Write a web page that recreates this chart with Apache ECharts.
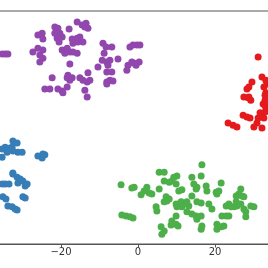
<!DOCTYPE html>
<html><head><meta charset="utf-8">
<script src="https://cdn.jsdelivr.net/npm/echarts@6/dist/echarts.min.js"></script>
<style>html,body{margin:0;padding:0;background:#fff}#c{width:268px;height:268px}</style>
</head><body><div id="c"></div>
<script>
const xTicks = [-40, -20, 0, 20, 40];
const purple = [[-35.3,19.1],[-34.5,19.1],[-33.8,19.1],[-24.9,24.5],[-24.7,23.0],[-26.0,24.0],[-21.6,26.1],[-20.8,25.8],[-21.6,24.5],[-20.3,24.5],[-21.0,23.2],[-19.7,23.5],[-20.5,22.2],[-17.9,25.6],[-15.8,27.4],[-14.5,26.6],[-13.5,27.1],[-13.0,25.8],[-13.8,26.1],[-17.1,23.0],[-15.8,23.2],[-15.1,23.5],[-15.6,22.2],[-14.3,22.2],[-16.9,21.9],[-27.3,19.6],[-26.0,20.6],[-24.7,20.1],[-25.5,18.8],[-24.7,18.0],[-25.5,17.0],[-19.7,20.1],[-18.4,20.6],[-19.0,19.3],[-17.7,19.6],[-16.9,19.6],[-15.8,19.3],[-17.7,16.5],[-9.1,21.9],[-8.3,20.9],[-6.8,20.9],[-8.8,19.3],[-9.3,17.5],[-8.1,17.0],[-7.3,17.5],[-7.8,16.2],[-10.4,15.7],[-5.2,17.8],[-2.6,16.2],[-1.6,17.0],[-2.9,14.9],[-2.1,20.9],[-1.3,21.4],[-18.2,13.6],[-17.7,12.3],[-18.4,12.9],[-17.1,12.9],[-15.1,12.9],[-14.3,12.3],[-13.2,11.8],[-12.5,12.3],[-13.0,14.2],[-13.8,9.7],[-13.2,7.9],[-22.3,12.9],[-24.2,10.0],[-22.9,10.0],[-20.8,10.0],[-19.7,9.5],[-19.5,9.0],[-18.4,10.5],[-8.1,14.4],[-6.8,14.4],[-8.1,11.8],[-7.3,12.3],[-6.5,12.1],[-8.1,11.3],[-0.3,21.4],[0.5,21.4],[0.3,17.0],[-0.5,16.2],[-1.0,16.7]];
const red = [[31.2,18.3],[32.2,13.1],[33.2,12.3],[29.6,11.8],[28.8,10.5],[28.3,10.0],[27.5,7.9],[28.8,7.9],[29.3,7.1],[32.7,10.5],[33.2,9.0],[33.0,7.1],[33.2,5.1],[27.3,3.2],[28.3,2.7],[29.1,2.5],[31.2,2.5],[30.9,1.2],[30.1,0.1],[23.4,1.2],[24.7,0.6],[25.7,0.1],[33.0,8.4],[33.0,5.8],[33.0,4.0],[28.6,7.7],[32.2,-0.1],[32.7,2.5],[31.7,3.8],[33.5,11.3],[32.5,6.1]];
const blue = [[-32.5,-3.5],[-31.4,-4.0],[-34.5,-5.1],[-33.8,-5.6],[-32.7,-5.1],[-32.5,-6.1],[-34.0,-6.4],[-35.3,-7.7],[-31.2,-6.4],[-30.1,-6.4],[-35.3,-5.6],[-33.2,-5.3],[-26.0,-7.4],[-24.9,-7.9],[-24.2,-7.1],[-24.7,-6.9],[-32.5,-12.1],[-31.4,-12.9],[-30.6,-13.4],[-29.9,-13.9],[-31.2,-14.4],[-29.3,-15.2],[-28.8,-14.7],[-35.3,-14.7],[-34.5,-14.7],[-33.5,-14.7],[-35.1,-18.0],[-34.3,-18.6],[-29.9,-18.0],[-29.3,-18.3],[-33.8,-20.4],[-32.7,-20.6],[-31.9,-21.2],[-31.4,-21.4],[-32.5,-11.8]];
const green = [[-4.4,-14.9],[-1.6,-15.7],[-4.2,-22.7],[-3.1,-23.0],[-2.1,-23.2],[-1.3,-23.5],[-1.0,-15.5],[0.8,-17.5],[1.6,-16.5],[2.3,-15.5],[2.9,-17.0],[3.6,-17.3],[5.5,-16.0],[5.5,-11.6],[6.8,-11.6],[6.8,-13.9],[8.1,-14.2],[8.8,-13.9],[9.3,-12.9],[10.1,-12.6],[9.9,-14.7],[7.3,-18.0],[7.5,-19.1],[6.8,-19.3],[8.1,-18.6],[4.7,-20.6],[4.9,-21.7],[10.6,-16.5],[11.4,-16.2],[9.9,-19.9],[10.1,-20.6],[11.2,-19.3],[11.9,-19.9],[11.4,-20.6],[12.7,-19.3],[13.2,-20.4],[9.9,-23.0],[8.8,-24.3],[12.7,-21.9],[6.0,-25.8],[6.8,-26.9],[6.2,-27.7],[8.6,-25.3],[9.9,-25.1],[10.4,-25.6],[14.0,-12.9],[14.5,-14.7],[15.1,-16.0],[14.0,-17.8],[15.3,-15.5],[16.4,-12.6],[16.6,-9.7],[15.3,-19.3],[16.4,-19.6],[14.0,-22.5],[15.1,-23.0],[15.3,-23.8],[16.4,-23.0],[16.6,-25.6],[16.4,-26.4],[17.7,-15.2],[17.9,-16.5],[18.4,-19.9],[19.2,-21.2],[20.3,-16.8],[20.5,-17.3],[21.0,-16.5],[21.6,-14.4],[22.9,-20.4],[23.6,-19.9],[24.2,-20.6],[21.8,-23.0],[22.9,-23.0],[23.6,-23.0],[20.5,-25.1],[21.6,-25.8],[22.3,-25.6],[20.5,-26.4],[25.5,-17.8],[26.2,-17.3],[26.7,-16.0],[27.0,-17.8],[27.5,-18.0],[25.5,-19.3],[25.7,-20.4],[26.7,-19.9],[27.5,-21.2],[28.0,-21.9],[28.0,-23.2],[29.3,-20.4],[30.1,-20.6],[24.9,-20.6]];

const chart = echarts.init(document.getElementById('c'), null, {renderer: 'canvas'});
function sc(data, color) {
  return {type: 'scatter', data: data, symbolSize: 7, itemStyle: {color: color, opacity: 1}, silent: true, animation: false};
}
chart.setOption({
  animation: false,
  grid: {left: -16, top: 11, width: 308, height: 233, containLabel: false, outerBoundsMode: 'none',
    show: true, borderColor: '#555', borderWidth: 1, backgroundColor: 'transparent'},
  xAxis: {
    type: 'value', min: xTicks[0], max: xTicks[xTicks.length - 1], interval: 20,
    splitLine: {show: false},
    axisLine: {show: true, onZero: false, lineStyle: {color: '#555', width: 1}},
    axisTick: {show: true, length: 3.5, lineStyle: {color: '#555'}},
    axisLabel: {color: '#333', fontSize: 10, fontFamily: 'DejaVu Sans', margin: 3,
      formatter: v => String(v).replace('-', '\u2212')}
  },
  yAxis: {type: 'value', min: -30.26, max: 30.26, show: false, splitLine: {show: false}},
  series: [sc(purple, '#9147ad'), sc(red, '#e41a1c'), sc(blue, '#377eb8'), sc(green, '#4daf4a')]
});
</script></body></html>
